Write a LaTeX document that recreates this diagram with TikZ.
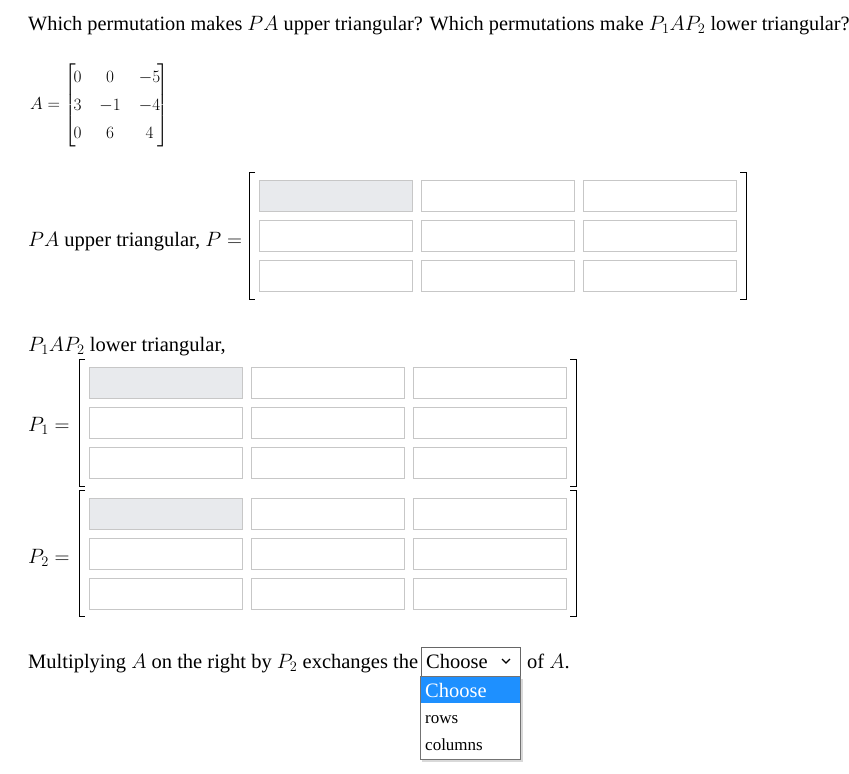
\documentclass[tikz,border=0pt]{standalone}
\usepackage{fontspec}
\usepackage{amsmath}
\setmainfont{Liberation Serif}
\definecolor{gfill}{HTML}{E8EAED}
\definecolor{hl}{HTML}{1E90FF}
\begin{document}
\begin{tikzpicture}[x=1pt,y=-1pt,
  txt/.style={anchor=base west,inner sep=0pt,font=\fontsize{20.5}{24}\selectfont},
  cell/.style={draw=black!22,line width=0.8pt,minimum width=153pt,minimum height=31pt,inner sep=0pt,anchor=north west},
  gcell/.style={cell,fill=gfill},
  brk/.style={line width=0.8pt}]
\useasboundingbox[fill=white] (0,0) rectangle (849,774);
\node[txt,font=\fontsize{20.3}{24}\selectfont] (t) at (28,30) {Which permutation makes $PA$ upper triangular? Which permutations make $P_1AP_2$ lower triangular?};
\node[txt,anchor=west,font=\fontsize{19}{23}\selectfont] (A) at (30,105) {\renewcommand\arraystretch{1.2}\setlength\arraycolsep{9pt}$A=\begin{bmatrix}\!0&0&-5\!\\\!3&-1&-4\!\\\!0&6&4\!\end{bmatrix}$};
\node[txt] (pa) at (28,246) {$PA$ upper triangular, $P=$};
\node[txt] (pl) at (28,351) {$P_1AP_2$ lower triangular,};
\node[txt] (p1) at (28,431) {$P_1=$};
\node[txt] (p2) at (28,563) {$P_2=$};
% P matrix
\foreach \c/\x in {0/259,1/421,2/583}{\foreach \r/\y in {0/180,1/220,2/260}{
  \ifnum\c\r=00 \node[gcell] (pc\c\r) at (\x,\y) {};\else\node[cell] (pc\c\r) at (\x,\y) {};\fi}}
\draw[brk] (255,172) -- (249,172) -- (249,299) -- (255,299);
\draw[brk] (740,172) -- (746,172) -- (746,299) -- (740,299);
% P1, P2
\foreach \m/\yo in {a/367,b/498}{
\foreach \c/\x in {0/89,1/251,2/413}{\foreach \r in {0,1,2}{
  \pgfmathsetmacro\yy{\yo+40*\r}
  \ifnum\c\r=00 \node[gcell] (\m\c\r) at (\x,\yy) {};\else\node[cell] (\m\c\r) at (\x,\yy) {};\fi}}}
\draw[brk] (85,359) -- (79,359) -- (79,486) -- (85,486);
\draw[brk] (570,359) -- (576,359) -- (576,486) -- (570,486);
\draw[brk] (85,490) -- (79,490) -- (79,616) -- (85,616);
\draw[brk] (570,490) -- (576,490) -- (576,616) -- (570,616);
% bottom line
\node[txt] (m) at (28,668) {Multiplying $A$ on the right by $P_2$ exchanges the};
\node[draw=black!60,line width=0.8pt,minimum width=99pt,minimum height=29pt,inner sep=0pt,anchor=north west] (dd) at (421,647) {};
\node[txt] (ch) at (426,668) {Choose};
\draw[line width=1.3pt] (502,659) -- (506,663) -- (510,659);
\node[txt] (of) at (527,668) {of $A$.};
\fill[black!15] (422,679) rectangle (523,762);
\node[draw=black!55,fill=white,line width=0.6pt,minimum width=100pt,minimum height=83pt,inner sep=0pt,anchor=north west] (lst) at (420,676) {};
\fill[hl] (421,677) rectangle (519.6,703);
\node[txt,text=white] (o1) at (425,697) {Choose};
\node[txt,font=\fontsize{17}{20}\selectfont] (o2) at (425,723) {rows};
\node[txt,font=\fontsize{17}{20}\selectfont] (o3) at (425,750) {columns};
\end{tikzpicture}
\end{document}
